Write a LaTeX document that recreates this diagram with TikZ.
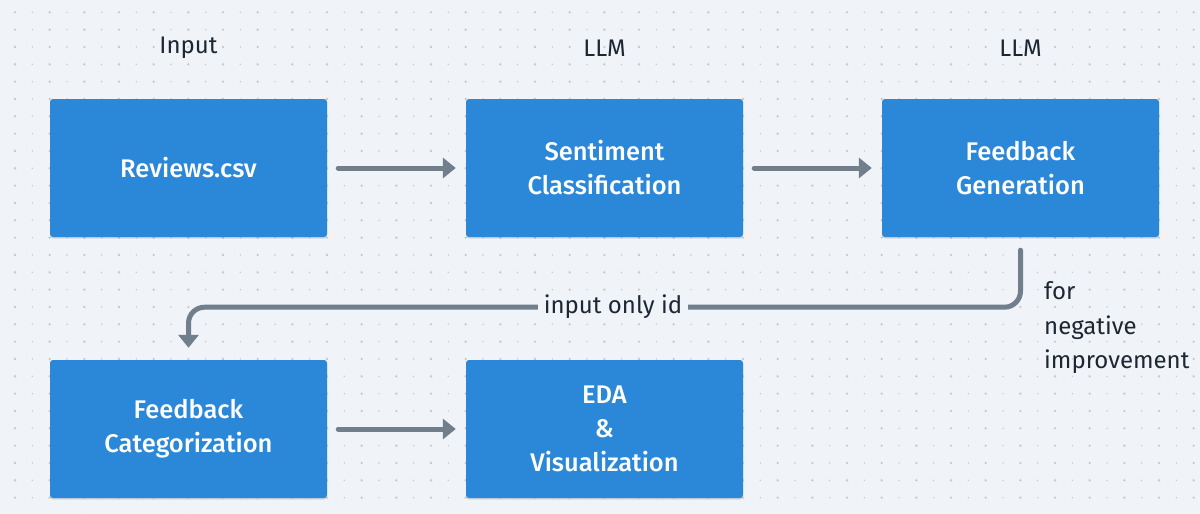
\documentclass[tikz,border=0pt]{standalone}
\usepackage{fontspec}
\setmainfont{Fira Sans}[BoldFont={Fira Sans Medium}]
\usetikzlibrary{arrows.meta,shadows}
\definecolor{bg}{HTML}{F0F3F7}
\definecolor{dotc}{HTML}{C3CAD4}
\definecolor{boxblue}{HTML}{2B88D8}
\definecolor{arrowgray}{HTML}{717E8C}
\definecolor{textdark}{HTML}{1C2733}
\tikzset{
 stepbox/.style={fill=boxblue, rounded corners=3pt, minimum width=277pt, minimum height=138pt,
   text=white, font=\fontsize{25.5}{34}\selectfont\bfseries, align=center, inner sep=0pt,
   execute at begin node={\vspace*{6pt}},
   drop shadow={shadow xshift=0pt, shadow yshift=-1.5pt, fill=black, opacity=0.12}},
 lbl/.style={text=textdark, font=\fontsize{24}{34.5}\selectfont, inner sep=0pt},
 flow/.style={draw=arrowgray, line width=5pt, line cap=round, -{Triangle[length=13pt,width=20pt]}},
}
\begin{document}
\begin{tikzpicture}[x=1pt,y=-1pt]
\fill[bg] (0,0) rectangle (1200,514);
\useasboundingbox (0,0) rectangle (1200,514);
\foreach \i in {0,...,34} \foreach \j in {0,...,29}
  \fill[dotc] ({15+34.667*\i},{12.3+17.333*\j}) circle[radius=1.3pt];
\foreach \i in {0,...,34} \foreach \j in {0,...,29}
  \fill[dotc] ({32.33+34.667*\i},{12.3+17.333*\j}) circle[radius=0.8pt];

\node[lbl] (lin) at (188.5,48) {Input};
\node[lbl] (llm1) at (604.5,48) {LLM};
\node[lbl] (llm2) at (1020.5,48) {LLM};

\node[stepbox] (rev) at (188.5,168) {Reviews.csv};
\node[stepbox] (sent) at (604.5,168) {Sentiment\\Classification};
\node[stepbox] (fgen) at (1020.5,168) {Feedback\\Generation};
\node[stepbox] (fcat) at (188.5,429) {Feedback\\Categorization};
\node[stepbox] (eda) at (604.5,429) {EDA\\\&\\Visualization};

\draw[flow] ([xshift=11pt]rev.east) -- ([xshift=-10pt]sent.west);
\draw[flow] ([xshift=11pt]sent.east) -- ([xshift=-10pt]fgen.west);
\draw[flow] ([xshift=11pt]fcat.east) -- ([xshift=-10pt]eda.west);
\draw[flow, rounded corners=16pt] ([yshift=-13pt]fgen.south) -- ++(0,57) -| ([yshift=12pt]fcat.north);

\node[lbl, fill=bg, inner xsep=6pt, inner ysep=3pt] (lid) at (613,307) {input only id};
\node[lbl, anchor=west, align=left] (lneg) at (1044,328) {for\\negative\\improvement};
\end{tikzpicture}
\end{document}
